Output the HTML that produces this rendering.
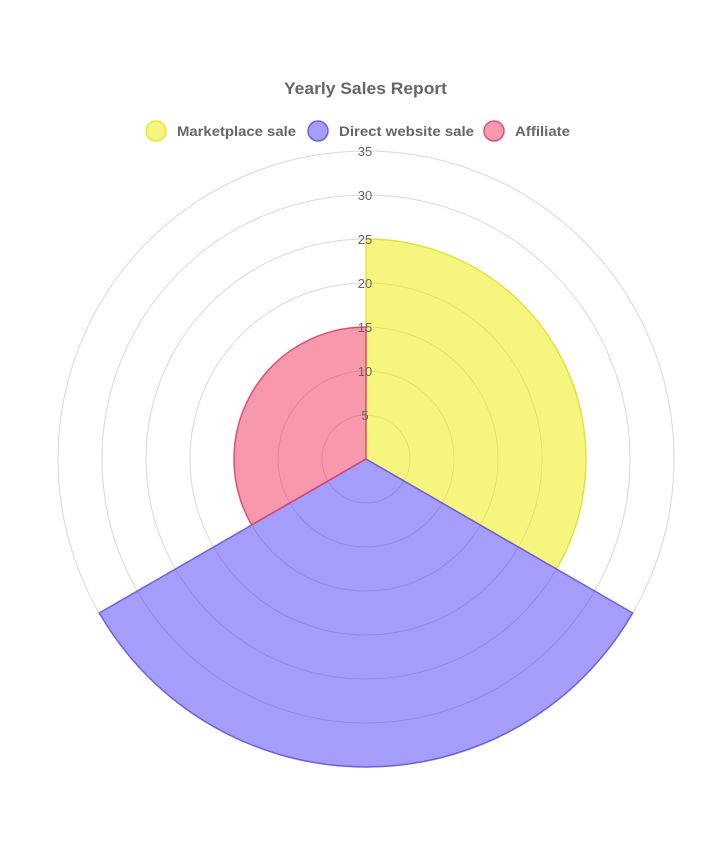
<!DOCTYPE html>
<html><head><meta charset="utf-8"><style>html,body{margin:0;padding:0;background:#fff}</style></head><body>
<svg width="711" height="855" xmlns="http://www.w3.org/2000/svg" font-family="Liberation Sans, sans-serif">
<rect width="711" height="855" fill="#fff"/>
<text x="284" y="94" font-size="17" font-weight="bold" fill="#666" textLength="163" lengthAdjust="spacingAndGlyphs">Yearly Sales Report</text>
<g font-size="14" font-weight="bold" fill="#666">
<circle cx="156" cy="131" r="10" fill="rgba(238,238,0,0.5)" stroke="rgba(225,225,30,0.8)" stroke-width="1.5"/>
<text x="177" y="136" textLength="119" lengthAdjust="spacingAndGlyphs">Marketplace sale</text>
<circle cx="318" cy="131" r="10" fill="rgba(75,60,245,0.5)" stroke="rgba(100,85,225,0.9)" stroke-width="1.5"/>
<text x="339" y="136" textLength="135" lengthAdjust="spacingAndGlyphs">Direct website sale</text>
<circle cx="494" cy="131" r="10" fill="rgba(240,50,90,0.5)" stroke="rgba(220,70,110,0.9)" stroke-width="1.5"/>
<text x="515" y="136" textLength="55" lengthAdjust="spacingAndGlyphs">Affiliate</text>
</g>
<g fill="none" stroke="#d8d8d8" stroke-width="1">
<circle cx="366" cy="459" r="44"/><circle cx="366" cy="459" r="88"/><circle cx="366" cy="459" r="132"/>
<circle cx="366" cy="459" r="176"/><circle cx="366" cy="459" r="220"/><circle cx="366" cy="459" r="264"/>
<circle cx="366" cy="459" r="308"/>
</g>
<path d="M366 459 L366 239 A220 220 0 0 1 556.5 569 Z" fill="rgba(238,238,0,0.5)" stroke="rgba(225,225,30,0.8)" stroke-width="1.5"/>
<path d="M366 459 L632.7 613 A308 308 0 0 1 99.3 613 Z" fill="rgba(75,60,245,0.5)" stroke="rgba(100,85,225,0.9)" stroke-width="1.5"/>
<path d="M366 459 L251.7 525 A132 132 0 0 1 366 327 Z" fill="rgba(240,50,90,0.5)" stroke="rgba(220,70,110,0.9)" stroke-width="1.5"/>
<g font-size="13" fill="#666" text-anchor="middle">
<text x="365" y="420">5</text><text x="365" y="376">10</text><text x="365" y="332">15</text>
<text x="365" y="288">20</text><text x="365" y="244">25</text><text x="365" y="200">30</text><text x="365" y="156">35</text>
</g>
</svg>
</body></html>
